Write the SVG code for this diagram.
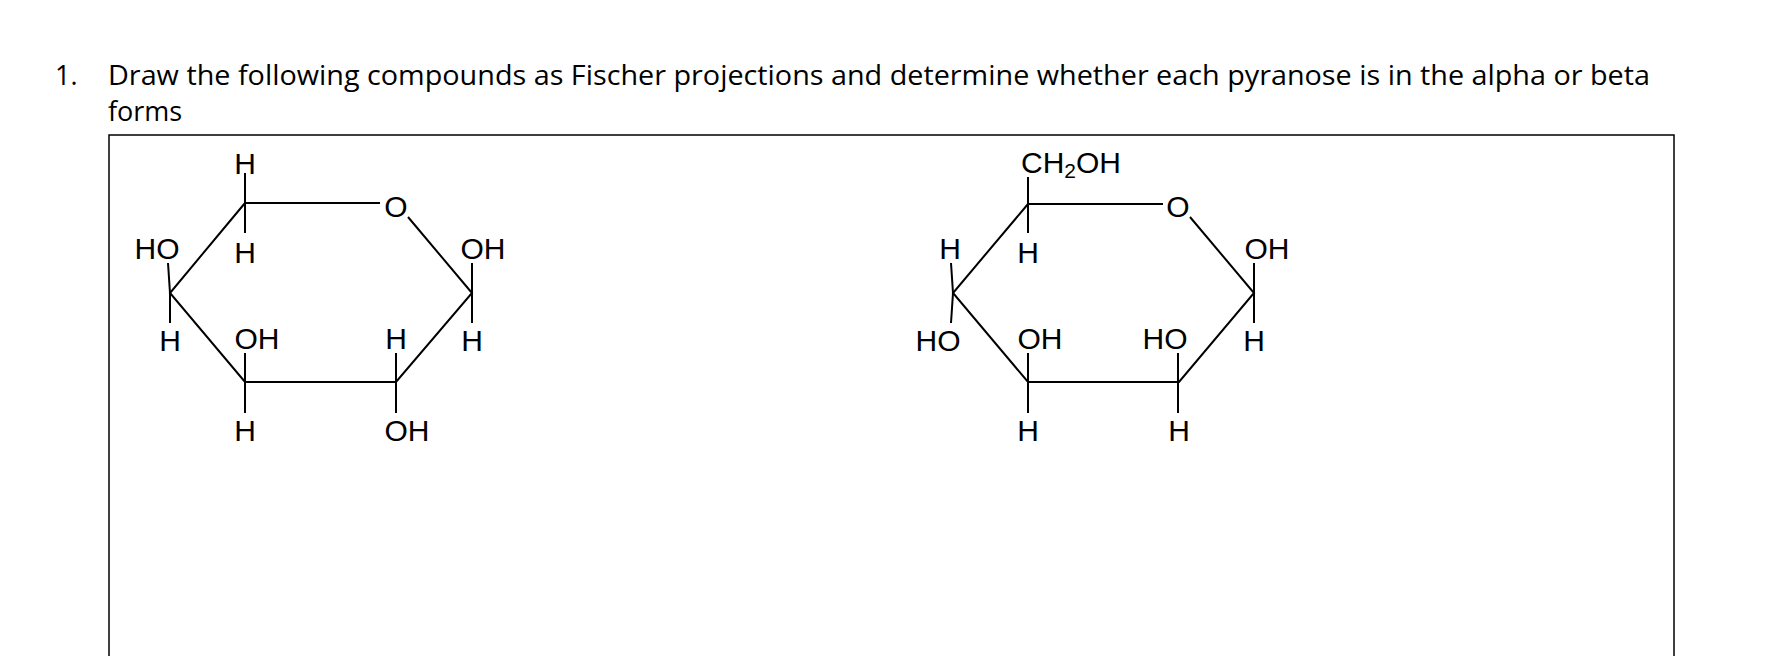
<svg xmlns="http://www.w3.org/2000/svg" width="1784" height="656" viewBox="0 0 1784 656">
<style>
.t{font-family:"Open Sans","Liberation Sans",sans-serif;font-size:27px;fill:#000}
.a{font-family:"Liberation Sans",Arial,sans-serif;font-size:30px;fill:#000;text-anchor:middle;dominant-baseline:central}
.b{stroke:#000;stroke-width:2;fill:none}
</style>
<rect width="1784" height="656" fill="#fff"/>
<text class="t" x="55" y="85">1.</text>
<text class="t" x="108" y="85" textLength="1542" lengthAdjust="spacingAndGlyphs">Draw the following compounds as Fischer projections and determine whether each pyranose is in the alpha or beta</text>
<text class="t" x="108" y="121">forms</text>
<rect x="109" y="135" width="1565" height="540" fill="none" stroke="#000" stroke-width="1.5"/>
<g id="connectors">
<path class="b" d="M245,203 H380 M408,217 L472,293 L396,382 H245 L170,293 L245,203"/>
<path class="b" d="M245,173 V233 M168,263 L170,293 V323 M472,263 V323 M245,353 V413 M396,353 V413"/>
<path class="b" d="M1028,204 H1163 M1190,217 L1254,293 L1179,382 H1028 L953,293 L1028,204"/>
<path class="b" d="M1028,177 V233 M951,263 L953,293 L951,323 M1254,263 V323 M1028,353 V413 M1178,353 V413"/>
</g>
<g id="mol1">
<text class="a" x="245" y="163">H</text>
<text class="a" x="396" y="206">O</text>
<text class="a" x="245" y="252">H</text>
<text class="a" x="157" y="248">HO</text>
<text class="a" x="170" y="340">H</text>
<text class="a" x="483" y="248">OH</text>
<text class="a" x="472" y="340">H</text>
<text class="a" x="257" y="338">OH</text>
<text class="a" x="245" y="430">H</text>
<text class="a" x="396" y="338">H</text>
<text class="a" x="407" y="430">OH</text>
</g>
<g id="mol2">
<text class="a" x="1071" y="162">CH<tspan font-size="21" dy="8">2</tspan><tspan dy="-8">OH</tspan></text>
<text class="a" x="1178" y="206">O</text>
<text class="a" x="1028" y="252">H</text>
<text class="a" x="950" y="248">H</text>
<text class="a" x="938" y="340">HO</text>
<text class="a" x="1267" y="248">OH</text>
<text class="a" x="1254" y="340">H</text>
<text class="a" x="1040" y="338">OH</text>
<text class="a" x="1028" y="430">H</text>
<text class="a" x="1165" y="338">HO</text>
<text class="a" x="1179" y="430">H</text>
</g>
</svg>
